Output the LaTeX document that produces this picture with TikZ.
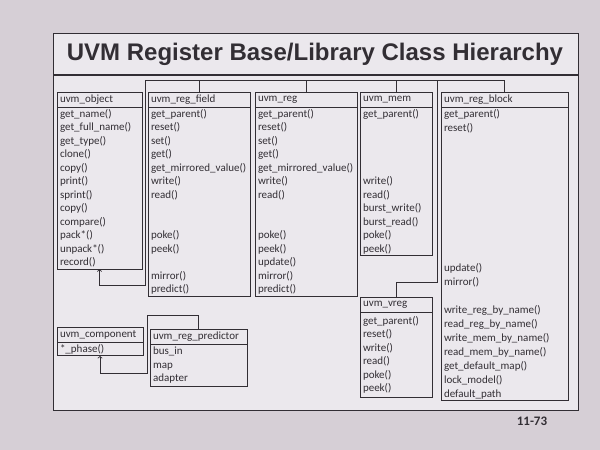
\documentclass[tikz,border=0pt]{standalone}
\usepackage{fontspec}
\setmainfont{Carlito}
\newfontfamily\titlefont{Liberation Sans}
\usepackage{xcolor}
\definecolor{paper}{RGB}{214,207,214}
\definecolor{slide}{RGB}{235,232,237}
\definecolor{ink}{RGB}{50,46,52}

\begin{document}
\begin{tikzpicture}[x=1pt,y=-1pt,
	clshead/.style={draw=ink,line width=0.9pt,fill=slide,anchor=north west,outer sep=0pt,inner xsep=3pt,inner ysep=0pt,minimum height=15pt,align=left,text=ink,font=\fontsize{11}{13.5}\selectfont},
	clsbody/.style={clshead,minimum height=0pt,inner ysep=2pt},
	conn/.style={draw=ink,line width=0.8pt}]

	% page and slide frame
	\fill[paper] (0,0) rectangle (600,450);
	\useasboundingbox (0,0) rectangle (600,450);
	\draw[ink,line width=0.9pt,fill=slide] (53,33) rectangle (578,410);
	\draw[ink,line width=0.9pt] (53,33) rectangle (578,75);
	\draw[ink,line width=2.6pt] (53,75) -- (578,75);
	\node[text=ink] (title) at (315,54) {\titlefont\bfseries\fontsize{24pt}{0}\selectfont UVM Register Base/Library Class Hierarchy};

	% (uvm_object)
	\node[clshead,text width=79pt] (obj) at (57,92) {uvm\_object};
	\node[clsbody,text width=79pt] (obj-b) at (obj.south west) {get\_name()\\get\_full\_name()\\get\_type()\\clone()\\copy()\\print()\\sprint()\\copy()\\compare()\\pack*()\\unpack*()\\record()};

	% (uvm_reg_field)
	\node[clshead,text width=96pt] (field) at (148,92) {uvm\_reg\_field};
	\node[clsbody,text width=96pt] (field-b) at (field.south west) {get\_parent()\\reset()\\set()\\get()\\get\_mirrored\_value()\\write()\\read()\\[27pt]poke()\\peek()\\[13.5pt]mirror()\\predict()};

	% (uvm_reg)
	\node[clshead,text width=96pt] (reg) at (255,92) {uvm\_reg};
	\node[clsbody,text width=96pt] (reg-b) at (reg.south west) {get\_parent()\\reset()\\set()\\get()\\get\_mirrored\_value()\\write()\\read()\\[27pt]poke()\\peek()\\update()\\mirror()\\predict()};

	% (uvm_mem)
	\node[clshead,text width=66pt] (mem) at (360,92) {uvm\_mem};
	\node[clsbody,text width=66pt] (mem-b) at (mem.south west) {get\_parent()\\[54pt]write()\\read()\\burst\_write()\\burst\_read()\\poke()\\peek()};

	% (uvm_reg_block)
	\node[clshead,text width=121pt] (block) at (441,92) {uvm\_reg\_block};
	\node[clsbody,text width=121pt,font=\fontsize{11}{14}\selectfont] (block-b) at (block.south west) {get\_parent()\\reset()\\[126pt]update()\\mirror()\\[14pt]write\_reg\_by\_name()\\read\_reg\_by\_name()\\write\_mem\_by\_name()\\read\_mem\_by\_name()\\get\_default\_map()\\lock\_model()\\default\_path};

	% (uvm_vreg)
	\node[clshead,text width=66pt] (vreg) at (360,297) {uvm\_vreg};
	\node[clsbody,text width=66pt,inner ysep=4pt] (vreg-b) at (vreg.south west) {get\_parent()\\reset()\\write()\\read()\\poke()\\peek()};

	% (uvm_component) and (uvm_reg_predictor)
	\node[clshead,text width=80pt] (comp) at (57,327) {uvm\_component};
	\node[clsbody,text width=80pt] (comp-b) at (comp.south west) {*\_phase()};
	\node[clshead,text width=91pt] (pred) at (150,329) {uvm\_reg\_predictor};
	\node[clsbody,text width=91pt,inner ysep=3pt] (pred-b) at (pred.south west) {bus\_in\\map\\adapter};

	% inheritance lines
	\coordinate (bus) at (145,80);
	\coordinate (objturn) at (145,285);
	\coordinate (vregturn) at (437,282);
	\coordinate (predup) at (147,315);
	\coordinate (preddn) at (147,373);
\draw[conn] (bus) -- (bus -| block.north) -- (block.north);
\draw[conn] (field.north) -- (field.north |- bus);
\draw[conn] (reg.north) -- (reg.north |- bus);
\draw[conn] (mem.north) -- (mem.north |- bus);
\draw[conn] (vregturn |- bus) -- (vregturn) -| (vreg.north);
\draw[conn,->] (bus) -- (objturn) -| (obj-b.south);
\draw[conn,->] (pred.north) |- (predup) -- (preddn) -| (comp-b.south);

	\node[text=ink] (pagenum) at (532,421) {\bfseries\fontsize{13pt}{0}\selectfont 11-73};

\end{tikzpicture}
\end{document}
